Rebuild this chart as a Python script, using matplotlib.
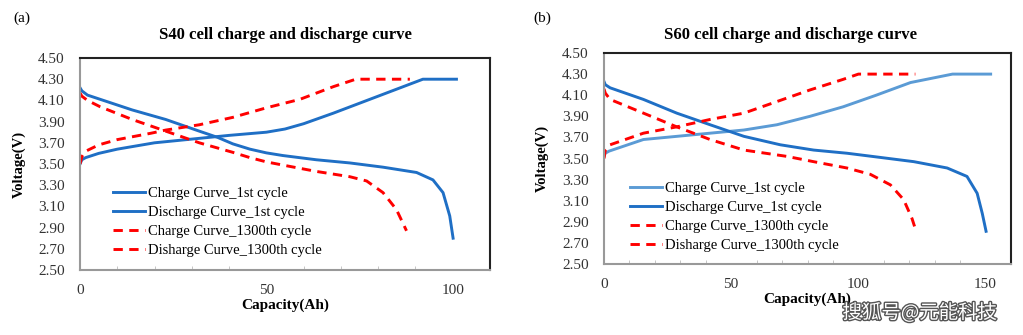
import matplotlib
matplotlib.use("Agg")
import matplotlib.pyplot as plt
import matplotlib.patheffects as pe
from matplotlib.ticker import MultipleLocator, FixedLocator

# ---------------- data ----------------
s40_charge1_x = [0, 0.5, 1.5, 5, 10, 15, 20, 30, 40, 50, 55, 60, 68, 77, 86, 92, 101]
s40_charge1_y = [3.50, 3.54, 3.56, 3.60, 3.64, 3.67, 3.70, 3.735, 3.77, 3.80, 3.83, 3.88, 3.98, 4.10, 4.22, 4.30, 4.30]
s40_dis1_x = [0, 0.5, 2, 14, 23, 32, 37, 41, 45.6, 50, 54.4, 63.4, 72.4, 81.3, 90.3, 94.7, 97.4, 99.2, 100.1]
s40_dis1_y = [4.22, 4.19, 4.15, 4.01, 3.92, 3.81, 3.75, 3.69, 3.64, 3.605, 3.58, 3.54, 3.51, 3.47, 3.42, 3.35, 3.23, 3.01, 2.80]
s40_charge1300_x = [0, 0.5, 1.5, 5, 10, 19, 23, 32, 41, 50, 59, 68, 74, 88.5]
s40_charge1300_y = [3.50, 3.57, 3.62, 3.68, 3.73, 3.79, 3.82, 3.87, 3.94, 4.03, 4.11, 4.23, 4.30, 4.30]
s40_dis1300_x = [0, 0.5, 2, 5.4, 14, 23, 32, 41, 45.6, 50, 54.4, 63.4, 72.4, 76.9, 81.3, 84.9, 87.6]
s40_dis1300_y = [4.17, 4.14, 4.10, 4.04, 3.92, 3.81, 3.70, 3.61, 3.56, 3.52, 3.49, 3.43, 3.38, 3.34, 3.23, 3.07, 2.87]

s60_charge1_x = [0, 0.5, 2, 15.5, 28.6, 41.7, 55, 68, 81, 94, 107, 120.5, 137, 152]
s60_charge1_y = [3.52, 3.55, 3.57, 3.68, 3.71, 3.74, 3.77, 3.82, 3.90, 3.99, 4.10, 4.22, 4.30, 4.30]
s60_dis1_x = [0, 0.5, 2.4, 15.5, 28.6, 41.7, 55, 69.3, 82.4, 95.5, 108.7, 121.8, 134.9, 142.7, 146.7, 148.7, 150.2]
s60_dis1_y = [4.23, 4.20, 4.17, 4.06, 3.93, 3.82, 3.71, 3.63, 3.58, 3.55, 3.51, 3.47, 3.41, 3.33, 3.17, 2.98, 2.81]
s60_charge1300_x = [0, 0.5, 2.4, 15.5, 28.6, 41.7, 55, 68, 81, 94, 100, 122.4]
s60_charge1300_y = [3.50, 3.58, 3.63, 3.74, 3.80, 3.87, 3.93, 4.04, 4.15, 4.25, 4.30, 4.30]
s60_dis1300_x = [0, 0.5, 2.4, 15.5, 28.6, 41.7, 55, 71.9, 82.4, 95.5, 104.7, 112.6, 117.8, 121.1, 122.7]
s60_dis1300_y = [4.16, 4.12, 4.06, 3.93, 3.80, 3.68, 3.58, 3.52, 3.47, 3.41, 3.35, 3.25, 3.11, 2.93, 2.81]

legend_labels = ["Charge Curve_1st cycle", "Discharge Curve_1st cycle",
                 "Charge Curve_1300th cycle", "Disharge Curve_1300th cycle"]
titles = ["S40 cell charge and discharge curve", "S60 cell charge and discharge curve"]
y_ticks = [2.50, 2.70, 2.90, 3.10, 3.30, 3.50, 3.70, 3.90, 4.10, 4.30, 4.50]

plt.rcParams['font.family'] = ['Liberation Serif', 'DejaVu Serif']

W, H = 1023, 335
fig = plt.figure(figsize=(W / 100, H / 100), dpi=100)

def box(l, t, r, b):
    return [l / W, 1 - b / H, (r - l) / W, (b - t) / H]

BLUE = '#1F6FC5'
LBLUE = '#5B9BD5'
RED = '#FF0000'
lw = 2.1
dash = (0, (3.2, 2.2))

def style(ax, xmax, xmajor):
    ax.set_ylim(2.5, 4.5)
    ax.set_xlim(0, xmax)
    ax.yaxis.set_major_locator(FixedLocator(y_ticks))
    ax.set_yticklabels([f"{v:.2f}" for v in y_ticks])
    ax.xaxis.set_major_locator(MultipleLocator(xmajor))
    ax.xaxis.set_minor_locator(MultipleLocator(10))
    ax.tick_params(axis='y', length=0, pad=11, labelsize=11, colors='#333333')
    ax.tick_params(axis='x', which='major', length=0, pad=10, labelsize=11, colors='#333333')
    ax.tick_params(axis='x', which='minor', direction='in', length=3, color='#BBBBBB')
    for s in ['left', 'bottom']:
        ax.spines[s].set_color('#999999')
        ax.spines[s].set_linewidth(1.5)
    for s in ['top', 'right']:
        ax.spines[s].set_color('#222222')
        ax.spines[s].set_linewidth(1.5)
    ax.set_ylabel("Voltage(V)", fontweight='bold', fontsize=10.5)
    ax.set_xlabel("Capacity(Ah)", fontweight='bold', fontsize=11, labelpad=1)

leg_kw = dict(loc='upper left', frameon=False, fontsize=10.5, handlelength=2.2,
              handletextpad=0.2, labelspacing=0.41, borderaxespad=0, borderpad=0)

# ---------- left panel ----------
ax1 = fig.add_axes(box(80, 58, 490, 270))
l1, = ax1.plot(s40_charge1_x, s40_charge1_y, color=BLUE, lw=lw)
l2, = ax1.plot(s40_dis1_x, s40_dis1_y, color=BLUE, lw=lw)
l3, = ax1.plot(s40_charge1300_x, s40_charge1300_y, color=RED, lw=lw, linestyle=dash)
l4, = ax1.plot(s40_dis1300_x, s40_dis1300_y, color=RED, lw=lw, linestyle=dash)
style(ax1, 110, 50)
ax1.yaxis.set_label_coords(-54 / 410, 0.5)
ax1.legend([l1, l2, l3, l4], legend_labels, bbox_to_anchor=(0.080, 0.394), **leg_kw)

# ---------- right panel ----------
ax2 = fig.add_axes(box(604, 53, 1011, 264))
r1, = ax2.plot(s60_charge1_x, s60_charge1_y, color=LBLUE, lw=lw)
r2, = ax2.plot(s60_dis1_x, s60_dis1_y, color=BLUE, lw=lw)
r3, = ax2.plot(s60_charge1300_x, s60_charge1300_y, color=RED, lw=lw, linestyle=dash)
r4, = ax2.plot(s60_dis1300_x, s60_dis1300_y, color=RED, lw=lw, linestyle=dash)
style(ax2, 160, 50)
ax2.yaxis.set_label_coords(-55 / 407, 0.5)
ax2.legend([r1, r2, r3, r4], legend_labels, bbox_to_anchor=(0.064, 0.391), **leg_kw)

# titles and panel labels
fig.text(285 / W, 1 - 35 / H, titles[0], ha='center', va='center', fontweight='bold', fontsize=12)
fig.text(790 / W, 1 - 35 / H, titles[1], ha='center', va='center', fontweight='bold', fontsize=12)
fig.text(13 / W, 1 - 18 / H, "(a)", ha='left', va='center', fontsize=11)
fig.text(533 / W, 1 - 18 / H, "(b)", ha='left', va='center', fontsize=11)

# watermark
fig.text(920 / W, 1 - 313 / H, "搜狐号@元能科技", ha='center', va='center', fontsize=14,
         color='white', family=['Noto Sans CJK SC', 'DejaVu Sans'],
         path_effects=[pe.withStroke(linewidth=2.0, foreground='#555555')])

fig.savefig("out.png", dpi=100)
